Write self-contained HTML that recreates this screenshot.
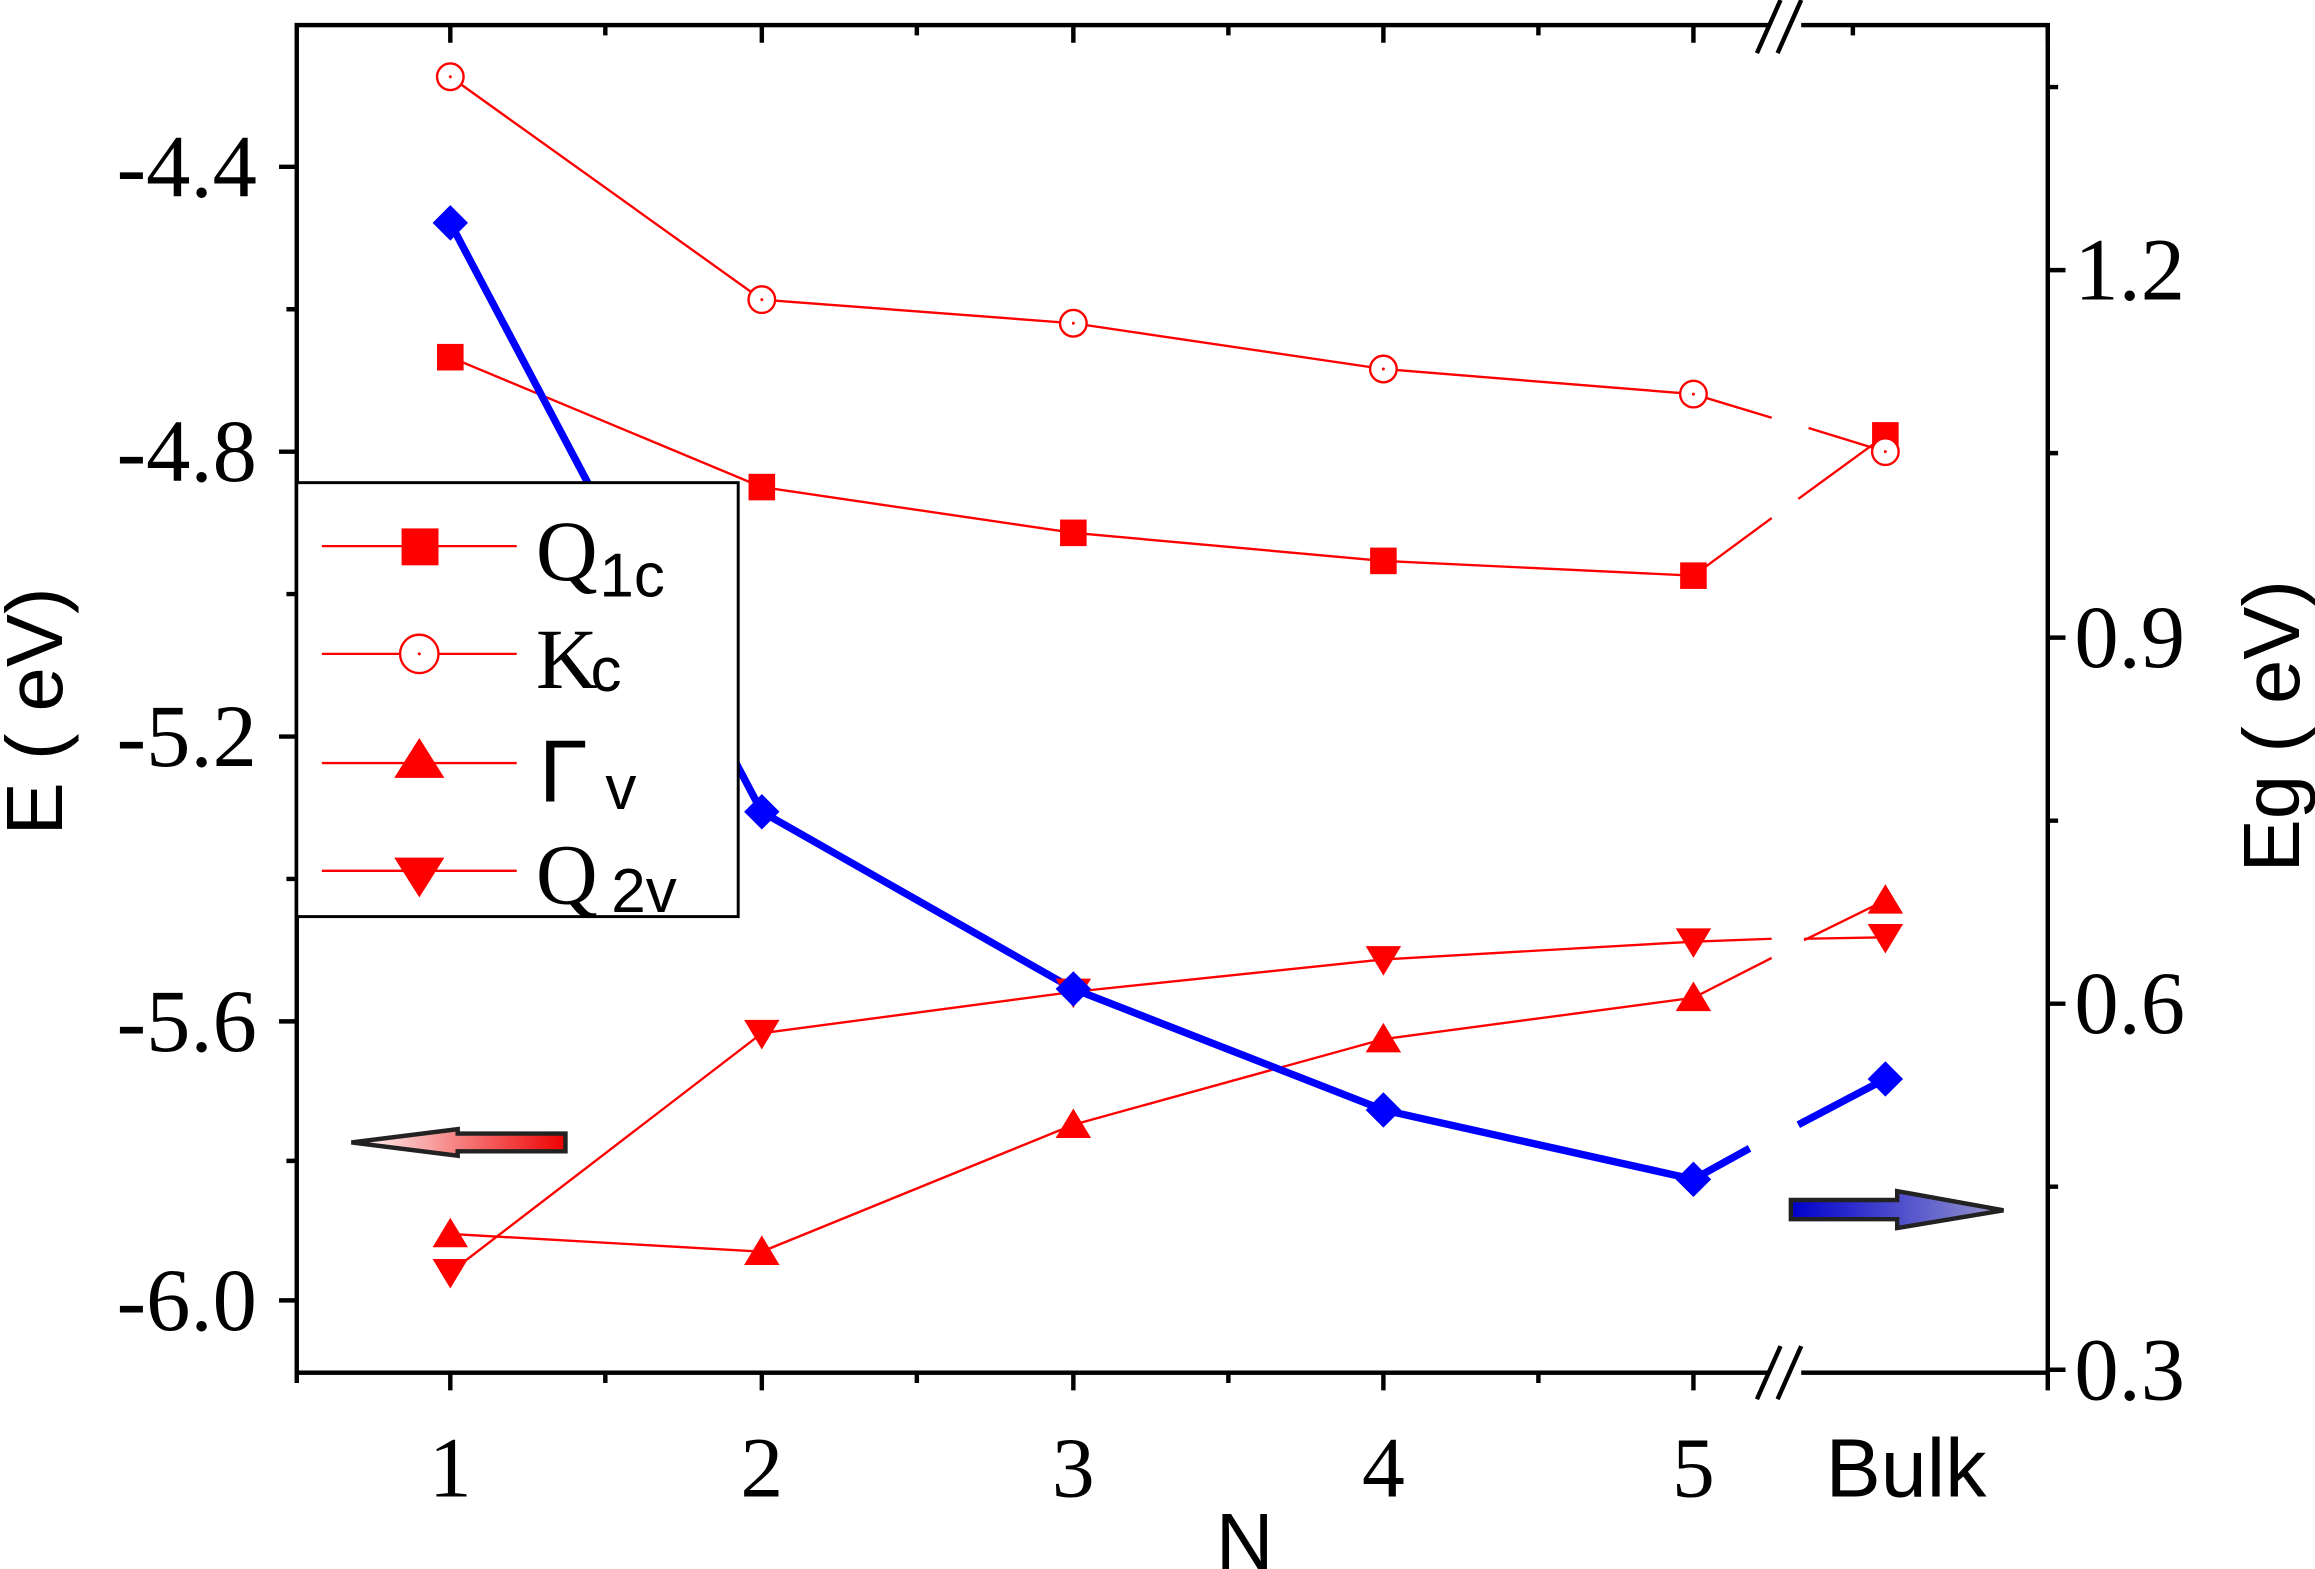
<!DOCTYPE html>
<html><head><meta charset="utf-8"><style>html,body{margin:0;padding:0;background:#fff}svg{display:block}</style></head>
<body>
<svg width="2315" height="1569" viewBox="0 0 1568 1063" preserveAspectRatio="none" xmlns="http://www.w3.org/2000/svg">
<rect width="1568" height="1063" fill="#fff"/>
<g stroke="#000" stroke-width="3" fill="none">
<rect x="201" y="17" width="1186" height="913"/>
<path d="M201 113h-12M201 306h-12M201 499h-12M201 692h-12M201 881h-12M201 209.5h-7M201 402.5h-7M201 595.5h-7M201 786.5h-7"/>
<path d="M1387 183h12M1387 432h12M1387 680h12M1387 928h12M1387 59h7M1387 307h7M1387 556h7M1387 804h7"/>
<path d="M305 930v12M516 930v12M727 930v12M937 930v12M1147 930v12M1387 930v12M410 930v7M621 930v7M832 930v7M1042 930v7M201 930v7"/>
<path d="M305 17v12M516 17v12M727 17v12M937 17v12M1147 17v12M1387 17v12M410 17v7M621 17v7M832 17v7M1042 17v7M1255 17v7"/>
</g>
<rect x="1198" y="5" width="22" height="25" fill="#fff"/>
<rect x="1198" y="918" width="22" height="25" fill="#fff"/>
<g stroke="#000" stroke-width="3"><path d="M1190 36l16-36M1204 36l16-36M1190 948l16-36M1204 948l16-36"/></g>
<g fill="none" stroke="#f00" stroke-width="1.6">
<polyline points="305,52 516,203 727,219 937,250 1147,267 1200,283"/><polyline points="1225,290 1277,306"/>
<polyline points="305,242 516,330 727,361 937,380 1147,390 1200,351"/><polyline points="1218,338 1277,295"/>
<polyline points="305,836 516,848 727,762 937,704 1147,676 1200,649"/><polyline points="1222,637 1277,610"/>
<polyline points="305,862 516,700 727,672 937,650 1147,638 1200,636"/><polyline points="1222,636 1277,635"/>
</g>
<g fill="none" stroke="#00f" stroke-width="5">
<polyline points="305,151 516,550 727,670 937,752 1147,799 1185,778"/><polyline points="1218,762 1277,731"/>
</g>
<g fill="#f00">
<rect x="296" y="233" width="18" height="18"/><rect x="507" y="321" width="18" height="18"/><rect x="718" y="352" width="18" height="18"/><rect x="928" y="371" width="18" height="18"/><rect x="1138" y="381" width="18" height="18"/><rect x="1268" y="286" width="18" height="18"/>
</g>
<g fill="#fff" stroke="#f00" stroke-width="1.6">
<circle cx="305" cy="52" r="9"/><circle cx="516" cy="203" r="9"/><circle cx="727" cy="219" r="9"/><circle cx="937" cy="250" r="9"/><circle cx="1147" cy="267" r="9"/><circle cx="1277" cy="306" r="9"/>
</g>
<g fill="#f00">
<circle cx="305" cy="52" r="1"/><circle cx="516" cy="203" r="1"/><circle cx="727" cy="219" r="1"/><circle cx="937" cy="250" r="1"/><circle cx="1147" cy="267" r="1"/><circle cx="1277" cy="306" r="1"/>
<path d="M305 825l-12 20h24zM516 837l-12 20h24zM727 751l-12 20h24zM937 693l-12 20h24zM1147 665l-12 20h24zM1277 599l-12 20h24z"/>
<path d="M305 873l-12-20h24zM516 711l-12-20h24zM727 683l-12-20h24zM937 661l-12-20h24zM1147 649l-12-20h24zM1277 646l-12-20h24z"/>
</g>
<g fill="#00f">
<path d="M305 139l12 12-12 12-12-12zM516 538l12 12-12 12-12-12zM727 658l12 12-12 12-12-12zM937 740l12 12-12 12-12-12zM1147 787l12 12-12 12-12-12zM1277 719l12 12-12 12-12-12z"/>
</g>
<rect x="201" y="327" width="299" height="294" fill="#fff" stroke="#000" stroke-width="2"/>
<g stroke="#f00" stroke-width="1.6"><path d="M218 370h132M218 443h132M218 517h132M218 590h132"/></g>
<rect x="272" y="358" width="25" height="25" fill="#f00"/>
<circle cx="284" cy="443" r="13" fill="#fff" stroke="#f00" stroke-width="1.6"/><circle cx="284" cy="443" r="1" fill="#f00"/>
<path d="M284 500l-17 27h34z" fill="#f00"/>
<path d="M284 608l-17-27h34z" fill="#f00"/>
<g font-family="Liberation Serif, serif" font-size="58" fill="#000">
<text x="363" y="393">Q</text><text x="363" y="466">K</text><text x="363" y="592" font-family="Liberation Sans, sans-serif" font-size="1"> </text><text x="363" y="612">Q</text>
</g>
<text x="365" y="543" font-family="Liberation Sans, sans-serif" font-size="60" fill="#000">Γ</text>
<g font-family="Liberation Sans, sans-serif" font-size="42" fill="#000">
<text x="406" y="404">1c</text><text x="400" y="468">c</text><text x="410" y="548">v</text><text x="414" y="618">2v</text>
</g>
<defs>
<linearGradient id="rg" x1="0" x2="1"><stop offset="0" stop-color="#fff"/><stop offset="1" stop-color="#e00"/></linearGradient>
<linearGradient id="bg" x1="0" x2="1"><stop offset="0" stop-color="#00c"/><stop offset="1" stop-color="#99c"/></linearGradient>
</defs>
<path d="M238 774l72-9v3h73v12h-73v3z" fill="url(#rg)" stroke="#222" stroke-width="3"/>
<path d="M1357 820l-72-13v6h-72v13h72v6z" fill="url(#bg)" stroke="#222" stroke-width="3"/>
<g font-family="Liberation Serif, serif" font-size="60" fill="#000" text-anchor="end">
<text x="174" y="133">-4.4</text><text x="174" y="326">-4.8</text><text x="174" y="519">-5.2</text><text x="174" y="712">-5.6</text><text x="174" y="901">-6.0</text>
</g>
<g font-family="Liberation Serif, serif" font-size="60" fill="#000">
<text x="1405" y="203">1.2</text><text x="1405" y="452">0.9</text><text x="1405" y="700">0.6</text><text x="1405" y="948">0.3</text>
</g>
<g font-family="Liberation Serif, serif" font-size="58" fill="#000" text-anchor="middle">
<text x="305" y="1014">1</text><text x="516" y="1014">2</text><text x="727" y="1014">3</text><text x="937" y="1014">4</text><text x="1147" y="1014">5</text>
</g>
<text x="1291" y="1014" font-family="Liberation Sans, sans-serif" font-size="56" text-anchor="middle">Bulk</text>
<text x="843" y="1063" font-family="Liberation Sans, sans-serif" font-size="54" text-anchor="middle">N</text>
<text transform="translate(42 482) rotate(-90)" font-family="Liberation Sans, sans-serif" font-size="54" text-anchor="middle">E ( eV)</text>
<text transform="translate(1557 492) rotate(-90)" font-family="Liberation Sans, sans-serif" font-size="54" text-anchor="middle">Eg ( eV)</text>
</svg>
</body></html>
